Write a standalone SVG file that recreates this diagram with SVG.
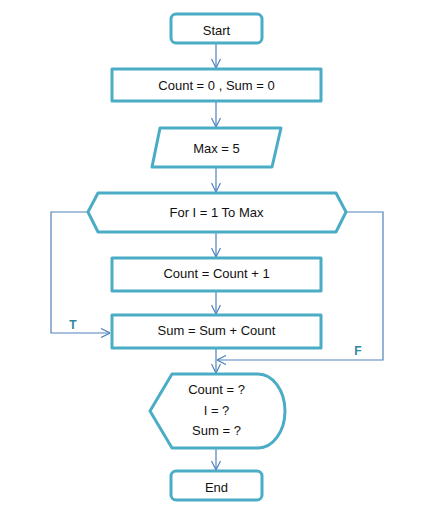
<svg xmlns="http://www.w3.org/2000/svg" width="435" height="526" viewBox="0 0 435 526">
<style>
.n{fill:#fff;stroke:#4BACC6;stroke-width:3;stroke-linejoin:round}
.t{font-family:"Liberation Sans",Arial,sans-serif;font-size:13px;fill:#111;text-anchor:middle}
.c{fill:none;stroke:#4F81BD;stroke-width:1.2}
.l{font-family:"Liberation Sans",Arial,sans-serif;font-size:12px;font-weight:bold;fill:#31859C;text-anchor:middle}
</style>
<defs>
<marker id="a" viewBox="0 0 10 10" refX="10" refY="5" markerWidth="10" markerHeight="10" markerUnits="userSpaceOnUse" orient="auto">
<path d="M1,0.5 L10,5 L1,9.5" fill="none" stroke="#4F81BD" stroke-width="1.2"/>
</marker>
</defs>
<rect width="435" height="526" fill="#fff"/>
<g id="connectors">
<line class="c" x1="216" y1="43" x2="216" y2="68" marker-end="url(#a)"/>
<line class="c" x1="216" y1="101" x2="216" y2="127" marker-end="url(#a)"/>
<line class="c" x1="216" y1="167" x2="216" y2="192" marker-end="url(#a)"/>
<line class="c" x1="216" y1="232" x2="216" y2="257" marker-end="url(#a)"/>
<line class="c" x1="216" y1="291" x2="216" y2="314" marker-end="url(#a)"/>
<line class="c" x1="216" y1="348" x2="216" y2="373" marker-end="url(#a)"/>
<line class="c" x1="216" y1="448" x2="216" y2="470" marker-end="url(#a)"/>
<polyline class="c" points="88,212 51,212 51,333 110,333" marker-end="url(#a)"/>
<polyline class="c" points="346,212 383,212 383,360 217,360" marker-end="url(#a)"/>
<text class="l" x="73" y="329">T</text>
<text class="l" x="358" y="355">F</text>
</g>
<g id="start">
<rect class="n" x="171" y="14" width="91" height="29" rx="5"/>
<text class="t" x="216.5" y="34.5">Start</text>
</g>
<g id="init">
<rect class="n" x="112" y="69" width="209" height="32"/>
<text class="t" x="216.5" y="89.5">Count = 0 , Sum = 0</text>
</g>
<g id="max">
<polygon class="n" points="160,128 281,128 272,167 152,167"/>
<text class="t" x="216.5" y="152.5">Max = 5</text>
</g>
<g id="loop">
<polygon class="n" points="88,212 98,193 336,193 346,212 336,232 98,232"/>
<text class="t" x="216.5" y="217">For I = 1 To Max</text>
</g>
<g id="inc">
<rect class="n" x="112" y="258" width="209" height="33"/>
<text class="t" x="216.5" y="277.5">Count = Count + 1</text>
</g>
<g id="sum">
<rect class="n" x="112" y="315" width="209" height="33"/>
<text class="t" x="216.5" y="334.5">Sum = Sum + Count</text>
</g>
<g id="display">
<path class="n" d="M172,374 L258,374 A27,37 0 0 1 258,448 L172,448 L150,411 Z"/>
<text class="t" x="216.5" y="393.5">Count = ?</text>
<text class="t" x="216.5" y="414.5">I = ?</text>
<text class="t" x="216.5" y="434.5">Sum = ?</text>
</g>
<g id="end">
<rect class="n" x="171" y="471" width="91" height="29" rx="5"/>
<text class="t" x="216.5" y="491.5">End</text>
</g>
</svg>
